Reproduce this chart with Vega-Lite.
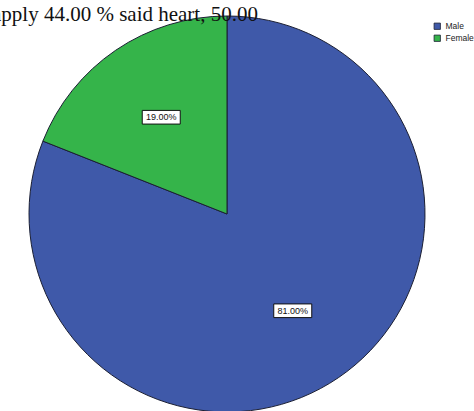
{
  "$schema": "https://vega.github.io/schema/vega-lite/v6.json",
  "autosize": {"type": "none"},
  "width": 454,
  "height": 392,
  "padding": {"left": 0, "top": 18, "right": 20, "bottom": 1},
  "background": "white",
  "title": {
    "text": "apply 44.00 % said heart, 50.00",
    "font": "Liberation Serif",
    "fontSize": 21,
    "fontWeight": "normal",
    "color": "#111111",
    "anchor": "start",
    "frame": "group",
    "offset": -11,
    "dx": -8
  },
  "data": {
    "values": [
      {"gender": "Male", "percent": 81},
      {"gender": "Female", "percent": 19}
    ]
  },
  "transform": [
    {"joinaggregate": [{"op": "sum", "field": "percent", "as": "total"}]},
    {"window": [{"op": "sum", "field": "percent", "as": "cum"}], "frame": [null, 0]},
    {"calculate": "2 * PI * (datum.cum - datum.percent / 2) / datum.total", "as": "mid"},
    {"calculate": "sin(datum.mid) * 117", "as": "lx"},
    {"calculate": "cos(datum.mid) * 117", "as": "ly"},
    {"calculate": "format(datum.percent, '.2f') + '%'", "as": "label"}
  ],
  "layer": [
    {
      "mark": {"type": "arc", "radius": 198, "stroke": "#1b1f33", "strokeWidth": 1},
      "encoding": {
        "theta": {"field": "percent", "type": "quantitative", "stack": true},
        "order": {"field": "percent", "type": "quantitative", "sort": "descending"},
        "color": {
          "field": "gender",
          "type": "nominal",
          "scale": {"domain": ["Male", "Female"], "range": ["#3f59a9", "#35b44a"]},
          "legend": {
            "title": null,
            "orient": "none",
            "legendX": 433,
            "legendY": 4,
            "padding": 0,
            "symbolType": "square",
            "symbolSize": 40,
            "symbolStrokeColor": "#1b1f33",
            "symbolStrokeWidth": 0.8,
            "symbolOpacity": 1,
            "labelFont": "Liberation Sans",
            "labelFontSize": 8.5,
            "labelColor": "#222222",
            "labelOffset": 4,
            "rowPadding": 1
          }
        }
      }
    },
    {
      "mark": {
        "type": "point",
        "shape": "M-1,-0.36H1V0.36H-1Z",
        "size": 1444,
        "filled": true,
        "fill": "white",
        "stroke": "#111111",
        "strokeWidth": 1,
        "opacity": 1
      },
      "encoding": {
        "x": {"field": "lx", "type": "quantitative", "scale": {"domain": [-227, 227]}, "axis": null},
        "y": {"field": "ly", "type": "quantitative", "scale": {"domain": [-196, 196]}, "axis": null}
      }
    },
    {
      "mark": {"type": "text", "font": "Liberation Sans", "fontSize": 9, "color": "#111111"},
      "encoding": {
        "x": {"field": "lx", "type": "quantitative", "scale": {"domain": [-227, 227]}, "axis": null},
        "y": {"field": "ly", "type": "quantitative", "scale": {"domain": [-196, 196]}, "axis": null},
        "text": {"field": "label"}
      }
    }
  ],
  "config": {"view": {"stroke": null}}
}
